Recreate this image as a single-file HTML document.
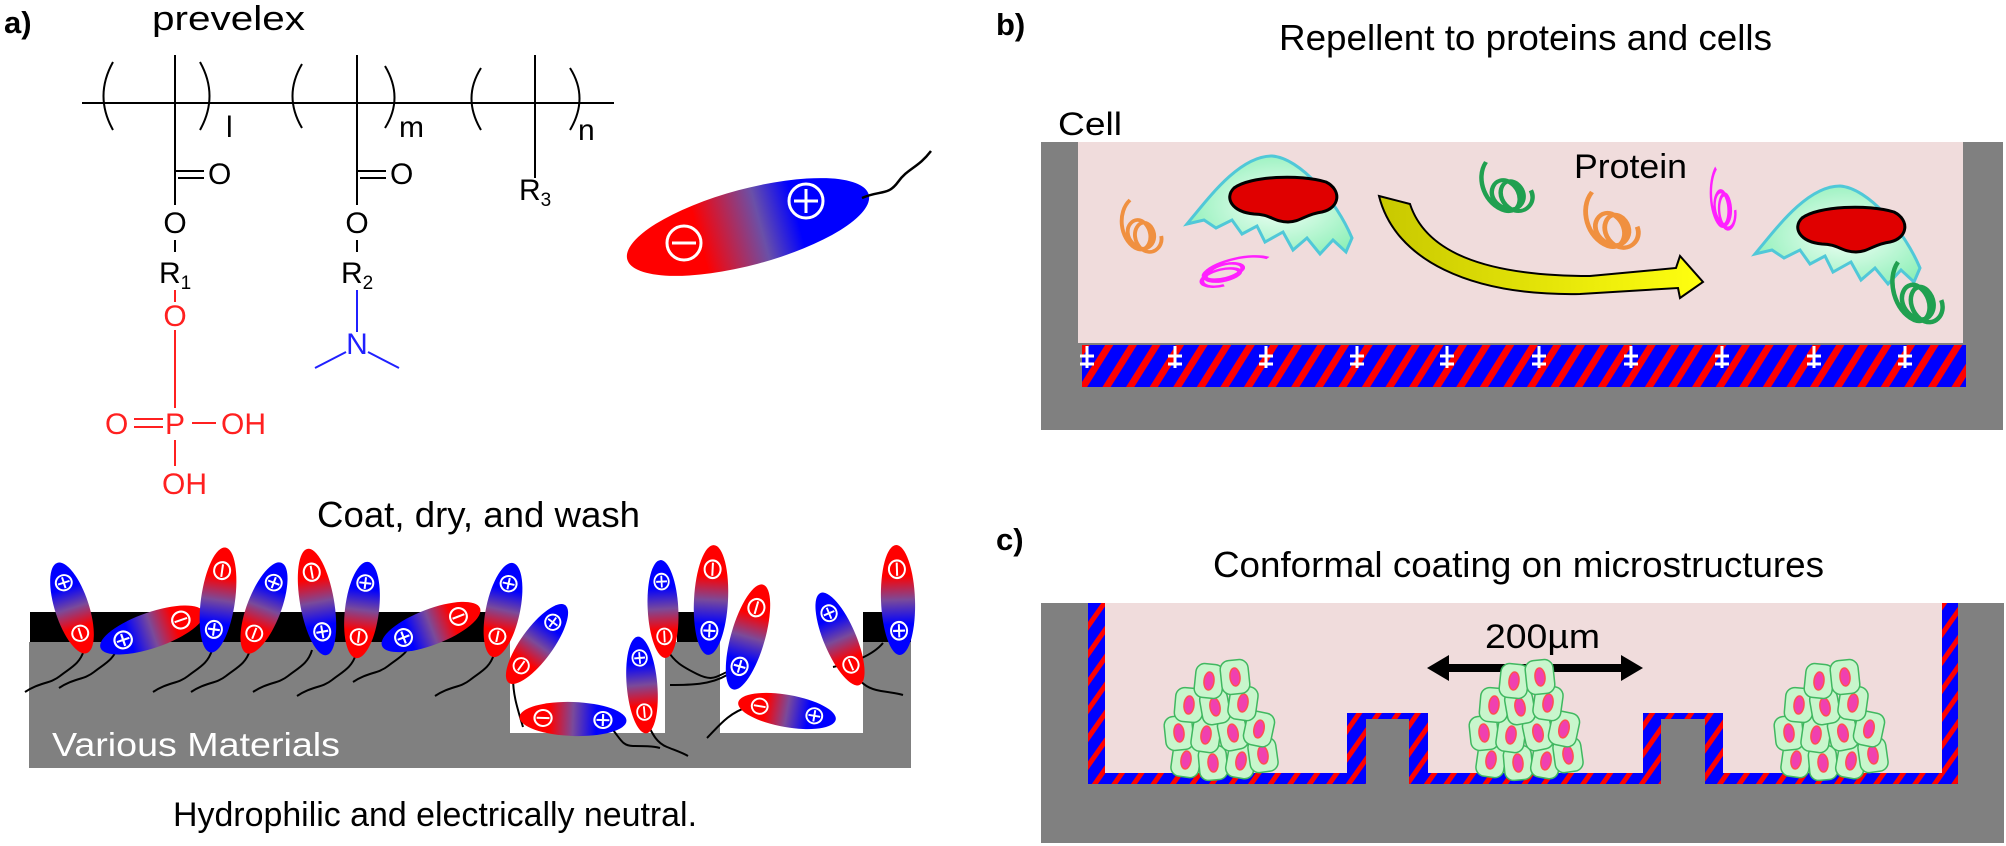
<!DOCTYPE html>
<html><head><meta charset="utf-8"><style>
html,body{margin:0;padding:0;background:#fff;}
svg{display:block;font-family:"Liberation Sans",Arial,sans-serif;}
</style></head><body>
<svg width="2006" height="846" viewBox="0 0 2006 846" xmlns="http://www.w3.org/2000/svg">
<defs>
<linearGradient id="gBR" x1="0" y1="0" x2="1" y2="0">
<stop offset="0" stop-color="#0000ff"/><stop offset="0.28" stop-color="#0000ff"/><stop offset="0.5" stop-color="#7a4a9a"/><stop offset="0.72" stop-color="#ff0000"/><stop offset="1" stop-color="#ff0000"/>
</linearGradient>
<linearGradient id="gBig" x1="0" y1="0" x2="1" y2="0">
<stop offset="0" stop-color="#ff0000"/><stop offset="0.3" stop-color="#ff0000"/><stop offset="0.55" stop-color="#6a50a8"/><stop offset="0.7" stop-color="#0000ff"/><stop offset="1" stop-color="#0000ff"/>
</linearGradient>
<radialGradient id="gCell" cx="0.55" cy="0.5" r="0.6">
<stop offset="0" stop-color="#f4fff8"/><stop offset="1" stop-color="#8ef0b8"/>
</radialGradient>
<linearGradient id="gArrow" x1="0" y1="0" x2="1" y2="0">
<stop offset="0" stop-color="#c8c800"/><stop offset="1" stop-color="#ffff10"/>
</linearGradient>
<pattern id="stripe" width="20" height="20" patternUnits="userSpaceOnUse" patternTransform="rotate(32)">
<rect width="20" height="20" fill="#0000ff"/><rect width="7" height="20" fill="#ff0000"/>
</pattern>
<pattern id="stripe2" width="16" height="16" patternUnits="userSpaceOnUse" patternTransform="rotate(35)">
<rect width="16" height="16" fill="#0000ff"/><rect width="5" height="16" fill="#ff0000"/>
</pattern>
<g id="mol">
<ellipse cx="0" cy="0" rx="50" ry="17" fill="url(#gBR)"/>
<circle cx="-28" cy="0" r="8" fill="none" stroke="#fff" stroke-width="2"/>
<path d="M-28,-6 V6 M-34,0 H-22" stroke="#fff" stroke-width="2"/>
<circle cx="28" cy="0" r="8" fill="none" stroke="#fff" stroke-width="2"/>
<path d="M22,0 H34" stroke="#fff" stroke-width="2"/>
</g>
<path id="sq" fill="none" stroke-width="3" d="M0,0 c-10,10 -8,32 4,40 c10,6 16,-10 8,-20 c-8,-10 -20,4 -10,16 c10,12 22,-2 14,-14 c-8,-10 -18,6 -8,18 c8,8 18,0 16,-10"/>
<g id="cellA">
<path d="M1272,156 C1300,158 1336,200 1352,238 L1346,252 L1333,240 L1320,254 L1307,238 L1293,250 L1283,232 L1265,242 L1257,226 L1242,234 L1232,220 L1216,228 L1204,220 L1187,224 C1210,196 1240,156 1272,156 Z" fill="url(#gCell)" stroke="#50c8d8" stroke-width="3"/>
<path d="M1234,188 C1250,176 1300,174 1326,182 C1342,190 1340,208 1322,212 C1306,214 1300,222 1288,222 C1274,222 1270,214 1254,214 C1232,212 1224,198 1234,188 Z" fill="#e00000" stroke="#000" stroke-width="3"/>
</g>
<g id="oc">
<rect x="-14" y="-17" width="28" height="34" rx="9" fill="#c8f6cc" stroke="#40b860" stroke-width="1.5"/>
<ellipse cx="0" cy="0" rx="5" ry="9" fill="#f040b0" stroke="#ff5050" stroke-width="1.5"/>
</g>
<g id="cl">
<use href="#oc" transform="translate(-35,35) rotate(8)"/>
<use href="#oc" transform="translate(-8,38) rotate(-5)"/>
<use href="#oc" transform="translate(20,36) rotate(10)"/>
<use href="#oc" transform="translate(42,30) rotate(-8)"/>
<use href="#oc" transform="translate(-42,8) rotate(-6)"/>
<use href="#oc" transform="translate(-15,10) rotate(8)"/>
<use href="#oc" transform="translate(12,8) rotate(-12)"/>
<use href="#oc" transform="translate(38,4) rotate(12)"/>
<use href="#oc" transform="translate(-32,-20) rotate(5)"/>
<use href="#oc" transform="translate(-6,-18) rotate(-10)"/>
<use href="#oc" transform="translate(22,-22) rotate(8)"/>
<use href="#oc" transform="translate(-12,-44) rotate(6)"/>
<use href="#oc" transform="translate(14,-48) rotate(-6)"/>
</g>
</defs>

<!-- ========== Panel a ========== -->
<text x="4" y="33" font-size="31" font-weight="bold">a)</text>
<text x="152" y="30" font-size="34" textLength="153" lengthAdjust="spacingAndGlyphs">prevelex</text>
<g stroke="#000" stroke-width="2" fill="none">
<line x1="82" y1="103" x2="614" y2="103"/>
<line x1="175" y1="55" x2="175" y2="205"/>
<line x1="357" y1="55" x2="357" y2="205"/>
<line x1="535" y1="55" x2="535" y2="178"/>
<path d="M113,62 Q94,96 113,130"/><path d="M200,62 Q219,96 200,130"/>
<path d="M302,64 Q283,96 302,128"/><path d="M385,66 Q404,98 385,128"/>
<path d="M481,68 Q462,98 481,130"/><path d="M570,68 Q589,98 570,130"/>
<line x1="175" y1="171" x2="204" y2="171"/><line x1="178" y1="178" x2="204" y2="178"/>
<line x1="357" y1="171" x2="386" y2="171"/><line x1="360" y1="178" x2="386" y2="178"/>
<line x1="175" y1="240" x2="175" y2="252"/>
<line x1="357" y1="240" x2="357" y2="252"/>
</g>
<g font-size="30">
<text x="226" y="137">l</text>
<text x="399" y="137">m</text>
<text x="578" y="140">n</text>
<text x="208" y="184">O</text>
<text x="390" y="184">O</text>
<text x="175" y="233" text-anchor="middle">O</text>
<text x="357" y="233" text-anchor="middle">O</text>
<text x="159" y="283">R<tspan font-size="19" dy="6">1</tspan></text>
<text x="341" y="283">R<tspan font-size="19" dy="6">2</tspan></text>
<text x="519" y="200">R<tspan font-size="19" dy="6">3</tspan></text>
</g>
<g stroke="#ff2020" stroke-width="2">
<line x1="175" y1="290" x2="175" y2="302"/>
<line x1="175" y1="330" x2="175" y2="408"/>
<line x1="134" y1="419" x2="163" y2="419"/><line x1="134" y1="427" x2="163" y2="427"/>
<line x1="192" y1="423" x2="216" y2="423"/>
<line x1="175" y1="440" x2="175" y2="466"/>
</g>
<g fill="#ff2020" font-size="30">
<text x="175" y="326" text-anchor="middle">O</text>
<text x="105" y="434">O</text>
<text x="165" y="434">P</text>
<text x="221" y="434">OH</text>
<text x="162" y="494">OH</text>
</g>
<g stroke="#2020ff" stroke-width="2">
<line x1="357" y1="290" x2="357" y2="332"/>
<line x1="346" y1="352" x2="315" y2="368"/>
<line x1="368" y1="352" x2="399" y2="368"/>
</g>
<text x="357" y="354" text-anchor="middle" fill="#2020ff" font-size="30">N</text>

<!-- big molecule -->
<g transform="translate(748,227) rotate(-15)">
<ellipse cx="0" cy="0" rx="125" ry="38" fill="url(#gBig)"/>
</g>
<circle cx="684" cy="243" r="17" fill="none" stroke="#fff" stroke-width="3"/>
<line x1="672" y1="243" x2="696" y2="243" stroke="#fff" stroke-width="3"/>
<circle cx="806" cy="201" r="17" fill="none" stroke="#fff" stroke-width="3"/>
<path d="M794,201 H818 M806,189 V213" stroke="#fff" stroke-width="3"/>
<path d="M862,198 C880,190 888,196 898,182 S918,168 931,151" stroke="#000" stroke-width="2.5" fill="none"/>

<text x="317" y="527" font-size="36" textLength="323" lengthAdjust="spacingAndGlyphs">Coat, dry, and wash</text>

<!-- substrate -->
<path d="M29,642 H510 V733 H665 V642 H720 V733 H863 V642 H911 V768 H29 Z" fill="#808080"/>
<rect x="30" y="612" width="480" height="30" fill="#000"/>
<rect x="677" y="612" width="43" height="30" fill="#000"/>
<rect x="863" y="612" width="48" height="30" fill="#000"/>
<text x="52" y="756" font-size="33" fill="#fff" textLength="288" lengthAdjust="spacingAndGlyphs">Various Materials</text>

<!-- tails -->
<g stroke="#000" stroke-width="2" fill="none">
<path d="M84,650 c-4,14 -14,18 -24,26 s-20,6 -35,16"/>
<path d="M118,646 c-4,14 -14,18 -24,26 s-20,6 -35,16"/>
<path d="M212,650 c-4,14 -14,18 -24,26 s-20,6 -35,16"/>
<path d="M250,650 c-4,14 -14,18 -24,26 s-20,6 -35,16"/>
<path d="M312,650 c-4,14 -14,18 -24,26 s-20,6 -35,16"/>
<path d="M356,654 c-4,14 -14,18 -24,26 s-20,6 -35,16"/>
<path d="M412,640 c-4,14 -14,18 -24,26 s-20,6 -35,16"/>
<path d="M494,654 c-4,14 -14,18 -24,26 s-20,6 -35,16"/>
<path d="M513,677 c0,18 4,30 10,50"/>
<path d="M613,730 c8,10 10,16 20,16 s20,0 27,2"/>
<path d="M647,723 c6,12 10,20 20,24 s16,6 21,9"/>
<path d="M667,650 c8,12 14,16 30,24 s20,2 30,-2 M670,685 c20,0 40,0 57,-10"/>
<path d="M748,707 c-20,6 -30,20 -41,31"/>
<path d="M855,675 c8,10 14,14 26,16 s16,2 22,4"/>
<path d="M883,643 c-10,12 -30,20 -50,24"/>
</g>
<!-- molecules -->
<use href="#mol" transform="translate(72,608) rotate(72) scale(0.95,1)"/>
<use href="#mol" transform="translate(152,630) rotate(-19) scale(1.09,1.05)"/>
<use href="#mol" transform="translate(218,600) rotate(-82) scale(1.06,1)"/>
<use href="#mol" transform="translate(264,608) rotate(111) scale(0.97,1)"/>
<use href="#mol" transform="translate(317,602) rotate(-100) scale(1.08,1)"/>
<use href="#mol" transform="translate(362,610) rotate(97) scale(0.97,1)"/>
<use href="#mol" transform="translate(431,627) rotate(-21) scale(1.05,1.05)"/>
<use href="#mol" transform="translate(503,610) rotate(102) scale(0.96,1)"/>
<use href="#mol" transform="translate(537,644) rotate(126) scale(0.96,0.95)"/>
<use href="#mol" transform="translate(573,719) rotate(182) scale(1.07,1)"/>
<use href="#mol" transform="translate(642,685) rotate(85) scale(0.97,0.9)"/>
<use href="#mol" transform="translate(663,609) rotate(87) scale(0.98,0.9)"/>
<use href="#mol" transform="translate(711,600) rotate(-87) scale(1.1,1)"/>
<use href="#mol" transform="translate(748,637) rotate(-74) scale(1.09,1)"/>
<use href="#mol" transform="translate(787,711) rotate(190) scale(0.99,0.95)"/>
<use href="#mol" transform="translate(840,639) rotate(67) scale(1,0.95)"/>
<use href="#mol" transform="translate(898,600) rotate(-92) scale(1.1,1)"/>

<text x="173" y="826" font-size="34" textLength="524" lengthAdjust="spacingAndGlyphs">Hydrophilic and electrically neutral.</text>

<!-- ========== Panel b ========== -->
<text x="996" y="35" font-size="31" font-weight="bold">b)</text>
<text x="1279" y="50" font-size="36" textLength="493" lengthAdjust="spacingAndGlyphs">Repellent to proteins and cells</text>
<text x="1058" y="135" font-size="32" textLength="64" lengthAdjust="spacingAndGlyphs">Cell</text>
<rect x="1041" y="142" width="962" height="288" fill="#808080"/>
<rect x="1078" y="142" width="885" height="201" fill="#f0dcdc"/>
<rect x="1082" y="345" width="884" height="42" fill="url(#stripe)"/>
<g stroke="#fff" stroke-width="3">
<path d="M1087,346 V368 M1080,356 H1094 M1080,364 H1094"/>
<path d="M1175,346 V368 M1168,356 H1182 M1168,364 H1182"/>
<path d="M1266,346 V368 M1259,356 H1273 M1259,364 H1273"/>
<path d="M1357,346 V368 M1350,356 H1364 M1350,364 H1364"/>
<path d="M1447,346 V368 M1440,356 H1454 M1440,364 H1454"/>
<path d="M1539,346 V368 M1532,356 H1546 M1532,364 H1546"/>
<path d="M1631,346 V368 M1624,356 H1638 M1624,364 H1638"/>
<path d="M1722,346 V368 M1715,356 H1729 M1715,364 H1729"/>
<path d="M1814,346 V368 M1807,356 H1821 M1807,364 H1821"/>
<path d="M1905,346 V368 M1898,356 H1912 M1898,364 H1912"/>
</g>
<use href="#cellA"/>
<use href="#cellA" transform="translate(568,30)"/>
<path d="M1379,196 L1410,204 C1425,250 1480,276 1590,276 L1676,268 L1680,256 L1703,282 L1680,298 L1678,288 L1580,294 C1470,296 1395,260 1379,196 Z" fill="url(#gArrow)" stroke="#000" stroke-width="2"/>
<text x="1574" y="178" font-size="34" textLength="113" lengthAdjust="spacingAndGlyphs">Protein</text>
<use href="#sq" stroke="#f09040" transform="translate(1130,200) scale(1.3,1.2)"/>
<use href="#sq" stroke="#ff20ff" transform="translate(1268,258) rotate(80) scale(0.8,1.6)"/>
<use href="#sq" stroke="#20a050" transform="translate(1486,162) rotate(-15) scale(1.5,1.3)"/>
<use href="#sq" stroke="#f09040" transform="translate(1592,192) rotate(-10) scale(1.6,1.4)"/>
<use href="#sq" stroke="#ff20ff" transform="translate(1716,168) scale(0.8,1.4)"/>
<use href="#sq" stroke="#20a050" transform="translate(1898,262) rotate(-10) scale(1.5,1.5)"/>

<!-- ========== Panel c ========== -->
<text x="996" y="550" font-size="31" font-weight="bold">c)</text>
<text x="1213" y="577" font-size="36" textLength="611" lengthAdjust="spacingAndGlyphs">Conformal coating on microstructures</text>
<rect x="1041" y="603" width="963" height="240" fill="#808080"/>
<rect x="1088" y="603" width="870" height="181" fill="url(#stripe2)"/>
<rect x="1366" y="719" width="43" height="70" fill="#808080"/>
<rect x="1661" y="719" width="44" height="70" fill="#808080"/>
<path d="M1105,603 V773 H1347 V713 H1428 V773 H1643 V713 H1723 V773 H1942 V603 Z" fill="#f0dcdc"/>
<text x="1485" y="648" font-size="34" textLength="115" lengthAdjust="spacingAndGlyphs">200µm</text>
<line x1="1445" y1="668" x2="1625" y2="668" stroke="#000" stroke-width="8"/>
<polygon points="1427,668 1449,655 1449,681" fill="#000"/>
<polygon points="1643,668 1621,655 1621,681" fill="#000"/>
<use href="#cl" transform="translate(1221,725)"/>
<use href="#cl" transform="translate(1526,725)"/>
<use href="#cl" transform="translate(1831,725)"/>
</svg>
</body></html>
